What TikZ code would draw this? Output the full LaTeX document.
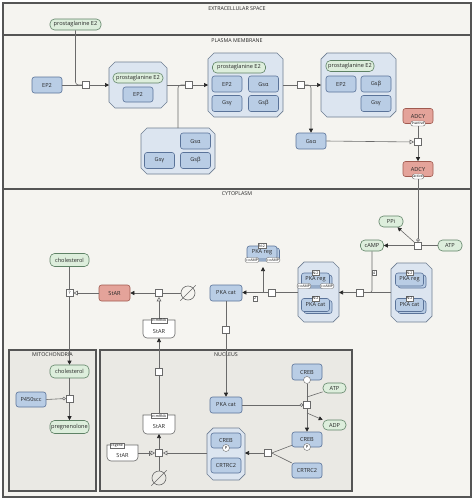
\documentclass[tikz,border=0pt]{standalone}
\usepackage{fontspec}
\setmainfont{Open Sans}
\usetikzlibrary{arrows.meta,shadows,calc}
\definecolor{bgc}{HTML}{F5F4F0}
\definecolor{inbg}{HTML}{EAE9E4}
\definecolor{cline}{HTML}{555555}
\definecolor{smf}{HTML}{DDEEDC}
\definecolor{smd}{HTML}{5F8266}
\definecolor{macf}{HTML}{B9CDE5}
\definecolor{macd}{HTML}{5A7399}
\definecolor{cxf}{HTML}{DCE5F0}
\definecolor{cxd}{HTML}{6E7D92}
\definecolor{redf}{HTML}{E4A39A}
\definecolor{redd}{HTML}{A05A50}
\definecolor{edge}{HTML}{6A6A6A}
\newcommand\myfs[1]{\fontsize{#1}{#1}\selectfont}
\tikzset{
 comp/.style={draw=cline, line width=1.2pt, fill=bgc},
 compin/.style={draw=cline, line width=1.2pt, fill=inbg},
 clab/.style={font=\myfs{5.3}, text=black!85, inner sep=0pt},
 sm/.style={draw=smd, fill=smf, line width=0.6pt, rounded corners=4.5pt, minimum height=11pt, inner sep=0.5pt, font=\myfs{5.6}, text=black!85},
 mac/.style={draw=macd, fill=macf, line width=0.6pt, rounded corners=2.5pt, minimum width=30pt, minimum height=16pt, inner sep=0.5pt, font=\myfs{5.6}, text=black!85},
 redmac/.style={mac, draw=redd, fill=redf},
 multi/.style={copy shadow={shadow xshift=2.5pt, shadow yshift=-2pt, fill=macf, draw=macd, line width=0.6pt}},
 cxs/.style={draw=cxd, fill=cxf, line width=0.7pt},
 anc/.style={inner sep=0pt, outer sep=0pt},
 pn/.style={draw=edge, fill=white, line width=0.6pt, minimum size=7pt, inner sep=0pt, font=\myfs{4.5}},
 ui/.style={draw=edge, fill=white, line width=0.4pt, inner xsep=1pt, inner ysep=0.6pt, minimum height=5pt, font=\myfs{3.5}},
 sv/.style={ui, rounded corners=2.2pt},
 svc/.style={draw=edge, fill=white, line width=0.4pt, circle, inner sep=0pt, minimum size=7pt, font=\myfs{4}},
 nad/.style={draw=edge, fill=white, line width=0.6pt},
 natext/.style={inner sep=0pt, font=\myfs{5.6}, text=black!85},
 flow/.style={draw=edge, line width=0.6pt},
 prod/.style={flow, -{Triangle[length=4pt,width=4pt,color=black!85]}},
 stim/.style={flow, -{Triangle[open,length=4.5pt,width=4.5pt,fill=white]}},
 catal/.style={flow, -{Circle[open,length=3.5pt,fill=white]}},
 nstim/.style={flow, -{Bar[width=5pt,sep=1pt]Triangle[open,length=4.5pt,width=4.5pt,fill=white]}},
 emptys/.style={draw=edge, circle, minimum size=14pt, inner sep=0pt, line width=0.6pt},
}
\newcommand\cxbox[5]{%
  \draw[cxs] (#2+6,#3) -- (#4-6,#3) -- (#4,#3+6) -- (#4,#5-6) -- (#4-6,#5) -- (#2+6,#5) -- (#2,#5-6) -- (#2,#3+6) -- cycle;
  \node[anc, minimum width={#4-#2}, minimum height={#5-#3}] (#1) at ({(#2+#4)/2},{(#3+#5)/2}) {};
}
\newcommand\nafeat[6]{%
  \pgfmathsetmacro\NAl{#2-#4/2}\pgfmathsetmacro\NAr{#2+#4/2}%
  \pgfmathsetmacro\NAt{#3-#5/2}\pgfmathsetmacro\NAb{#3+#5/2}%
  \draw[nad] (\NAl,\NAt) -- (\NAr,\NAt) -- (\NAr,\NAb-4) .. controls (\NAr,\NAb-1.8) and (\NAr-1.8,\NAb) .. (\NAr-4,\NAb) -- (\NAl+4,\NAb) .. controls (\NAl+1.8,\NAb) and (\NAl,\NAb-1.8) .. (\NAl,\NAb-4) -- cycle;
  \node[anc, minimum width=#4, minimum height=#5] (#1) at (#2,#3) {};
  \node[natext] (#1-t) at (#2,#3+2) {#6};
}
\begin{document}
\begin{tikzpicture}[x=1pt,y=-1pt]
\useasboundingbox (0,0) rectangle (474,501);
% compartments
\draw[comp] (3,3) rectangle (471,35);
\draw[comp] (3,35) rectangle (471,189);
\draw[comp] (3,189) rectangle (471,497);
\draw[compin] (9,350) rectangle (96,491);
\draw[compin] (100,350) rectangle (352,491);
\node[clab] (lext) at (237,8.5) {EXTRACELLULAR SPACE};
\node[clab] (lpm) at (237,40.5) {PLASMA MEMBRANE};
\node[clab] (lcyt) at (237,194) {CYTOPLASM};
\node[clab] (lmit) at (52.5,355) {MITOCHONDRIA};
\node[clab] (lnuc) at (226,355) {NUCLEUS};
% extracellular / membrane
\node[sm, minimum width=51pt] (pge) at (75.5,24.5) {prostaglanine E2};
\node[mac] (ep2) at (47,85) {EP2};
\node[pn] (p1) at (86,85) {};
\cxbox{cx1}{109}{62}{167}{108}
\node[sm, minimum width=50pt, minimum height=10pt] (pge1) at (138,78) {prostaglanine E2};
\node[mac, minimum height=15pt] (ep2a) at (138,94.5) {EP2};
\node[pn] (p2) at (189,85) {};
\cxbox{gsc}{141}{128}{215}{174}
\node[mac] (gsa1) at (195.5,141) {Gsα};
\node[mac] (gsg1) at (159.5,160.5) {Gsγ};
\node[mac] (gsb1) at (195.5,160.5) {Gsβ};
\cxbox{cx2}{208}{53}{283}{117}
\node[sm, minimum width=53pt] (pge2) at (239,67.5) {prostaglanine E2};
\node[mac] (ep2b) at (227,84) {EP2};
\node[mac] (gsa2) at (263.5,84) {Gsα};
\node[mac] (gsg2) at (227,103.5) {Gsγ};
\node[mac] (gsb2) at (263.5,103.5) {Gsβ};
\node[pn] (p3) at (301,85) {};
\cxbox{cx3}{321}{53}{396}{117}
\node[sm, minimum width=48pt] (pge3) at (350,66) {prostaglanine E2};
\node[mac] (ep2c) at (341,84) {EP2};
\node[mac] (gsb3) at (376,84) {Gsβ};
\node[mac] (gsg3) at (376,103.5) {Gsγ};
\node[mac] (gsa) at (311,141) {Gsα};
\node[redmac, minimum height=15pt] (adcyi) at (418,116) {ADCY};
\node[sv] (adcyis) at (418,123.5) {inactive};
\node[pn] (p4) at (418,142) {};
\node[redmac, minimum height=15pt] (adcya) at (418,169) {ADCY};
\node[sv] (adcyas) at (418,176.5) {active};
% cytoplasm
\node[sm, minimum width=24pt] (ppi) at (391,221.5) {PPi};
\node[sm, minimum width=23pt] (camp) at (372,245.5) {cAMP};
\node[sm, minimum width=24pt] (atp) at (450,245.5) {ATP};
\node[pn] (p5) at (418,245.5) {};
\cxbox{cx5}{391}{263}{432}{322}
\node[mac, multi, minimum width=28pt, minimum height=13pt] (reg5) at (409.5,279.5) {PKA reg};
\node[ui] (reg5u) at (409.5,273) {N:2};
\node[mac, multi, minimum width=28pt, minimum height=13pt] (cat5) at (409.5,305) {PKA cat};
\node[ui] (cat5u) at (409.5,298.5) {N:2};
\node[pn] (p6) at (360,292.5) {};
\cxbox{cx4}{298}{262}{339}{322}
\node[mac, multi, minimum width=28pt, minimum height=13pt] (reg4) at (315.5,279.5) {PKA reg};
\node[ui] (reg4u) at (315.5,273) {N:2};
\node[sv] (reg4s1) at (304,286) {c:cAMP};
\node[sv] (reg4s2) at (327,286) {c:cAMP};
\node[mac, multi, minimum width=28pt, minimum height=13pt] (cat4) at (315.5,305) {PKA cat};
\node[ui] (cat4u) at (315.5,298.5) {N:2};
\node[pn] (p7) at (272,292.5) {};
\node[ui] (st2) at (255,298.5) {2};
\node[ui] (st4) at (374,273) {4};
\node[mac, multi, minimum width=30pt, minimum height=13pt] (reg) at (262,252.5) {PKA reg};
\node[ui] (regu) at (262,246) {N:2};
\node[sv] (regs1) at (252,260) {c:cAMP};
\node[sv] (regs2) at (273,260) {c:cAMP};
\coordinate (regin) at (263,267);
\node[mac, minimum width=32pt] (pkac) at (226,293) {PKA cat};
\node[pn] (p8) at (226,330) {};
\node[redmac, minimum width=31pt] (star) at (114.5,293) {StAR};
\node[pn] (p9) at (159,293) {};
\node[emptys] (e1) at (188,293) {};
\nafeat{mrna1}{159}{329}{32}{18}{StAR}
\node[ui] (mrna1u) at (159,320.5) {ct:mRNA};
\node[sm, minimum width=39pt, minimum height=13pt] (chol1) at (69.5,260) {cholesterol};
\node[pn] (pq) at (69.5,293) {?};
% mitochondria
\node[sm, minimum width=39pt, minimum height=13pt] (chol2) at (69.5,371.5) {cholesterol};
\node[mac, minimum height=15pt] (p450) at (31,399.5) {P450scc};
\node[pn] (p14) at (69.5,398.5) {};
\node[sm, minimum width=39pt, minimum height=13pt] (preg) at (69.5,427) {pregnenolone};
% nucleus
\node[pn] (p10) at (159,372) {};
\node[mac, minimum width=32pt] (pkacn) at (226,405) {PKA cat};
\nafeat{mrna2}{159}{424.5}{32}{19}{StAR}
\node[ui] (mrna2u) at (159,416) {ct:mRNA};
\nafeat{gene}{122.5}{453}{31}{16}{StAR}
\node[ui] (geneu) at (117,445.5) {ct:gene};
\node[pn] (p11) at (159,453) {};
\node[emptys] (e2) at (159,478) {};
\cxbox{cx6}{207}{428}{245}{480}
\node[mac, minimum height=15pt] (crebc) at (226,440.5) {CREB};
\node[svc] (crebcs) at (226,448) {P};
\node[mac, minimum height=15pt] (crtcc) at (226,465.5) {CRTRC2};
\node[mac] (creb) at (307,372) {CREB};
\node[svc] (crebs) at (307,380) {};
\node[pn] (p12) at (307,405) {};
\coordinate (p12t) at (307,397);
\coordinate (p12b) at (307,413);
\node[sm, minimum width=23pt, minimum height=10pt] (atp2) at (334.5,388) {ATP};
\node[sm, minimum width=23pt, minimum height=10pt] (adp) at (334.5,425) {ADP};
\node[mac, minimum height=15pt] (crebp) at (307,439.5) {CREB};
\node[svc] (crebps) at (307,447) {P};
\node[mac, minimum height=15pt] (crtc) at (307,470.5) {CRTRC2};
\node[pn] (p13) at (268,453) {};
% empty set slashes
\draw[flow] ($(e1.south west)!-0.25!(e1.north east)$) -- ($(e1.north east)!-0.25!(e1.south west)$);
\draw[flow] ($(e2.south west)!-0.25!(e2.north east)$) -- ($(e2.north east)!-0.25!(e2.south west)$);
% edges: membrane
\draw[flow, rounded corners=3pt] (pge.south) |- (p1.west);
\draw[flow] (ep2.east) -- (p1.west);
\draw[prod] (p1.east) -- (cx1.west);
\draw[flow] (cx1.east) -- (p2.west);
\draw[flow, rounded corners=3pt] (gsc.north) |- (p2.west);
\draw[prod] (p2.east) -- (cx2.west);
\draw[flow] (cx2.east) -- (p3.west);
\draw[prod] (p3.east) -- (cx3.west);
\draw[prod, rounded corners=3pt] (p3.east) -| (gsa.north);
\draw[stim] (gsa.east) -- (p4.west);
\draw[flow] (adcyis.south) -- (p4.north);
\draw[prod] (p4.south) -- (adcya.north);
\draw[catal] (adcyas.south) -- (p5.north);
% edges: cytoplasm
\draw[flow] (atp.west) -- (p5.east);
\draw[prod] (p5.west) -- (camp.east);
\draw[prod] (p5) -- (ppi);
\draw[flow] (cx5.west |- p6.east) -- (p6.east);
\draw[flow, rounded corners=2pt] (camp.south) |- (p6.east);
\draw[prod] (p6.west) -- (cx4.east |- p6.west);
\draw[flow] (cx4.west |- p7.east) -- (p7.east);
\draw[prod] (p7.west) -- (pkac.east |- p7.west);
\draw[prod] (p7.west) -| (regin);
\draw[flow] (pkac.south) -- (p8.north);
\draw[prod] (p8.south) -- (pkacn.north);
\draw[prod] (p9.west) -- (star.east);
\draw[flow] (e1) -- (p9.east);
\draw[stim] (mrna1u.north) -- (p9.south);
\draw[flow] (chol1.south) -- (pq.north);
\draw[prod] (pq.south) -- (chol2.north);
\draw[stim] (star.west) -- (pq.east);
% mitochondria
\draw[flow] (chol2.south) -- (p14.north);
\draw[prod] (p14.south) -- (preg.north);
\draw[catal] (p450.east) -- (p14.west);
% nucleus
\draw[flow] (mrna2u.north) -- (p10.south);
\draw[prod] (p10.north) -- (mrna1.south);
\draw[nstim] (gene.east) -- (p11.west);
\draw[stim] (cx6.west |- p11.east) -- (p11.east);
\draw[flow] (e2) -- (p11.south);
\draw[prod] (p11.north) -- (mrna2.south);
\draw[flow] (crebs.south) -- (p12.north);
\draw[flow] (atp2) -- (p12t);
\draw[prod] (p12.south) -- (crebp.north);
\draw[prod] (p12b) -- (adp);
\draw[catal] (pkacn.east) -- (p12.west);
\draw[flow] (crebp) -- (p13.east);
\draw[flow] (crtc) -- (p13.east);
\draw[prod] (p13.west) -- (cx6.east |- p13.west);
\end{tikzpicture}
\end{document}
